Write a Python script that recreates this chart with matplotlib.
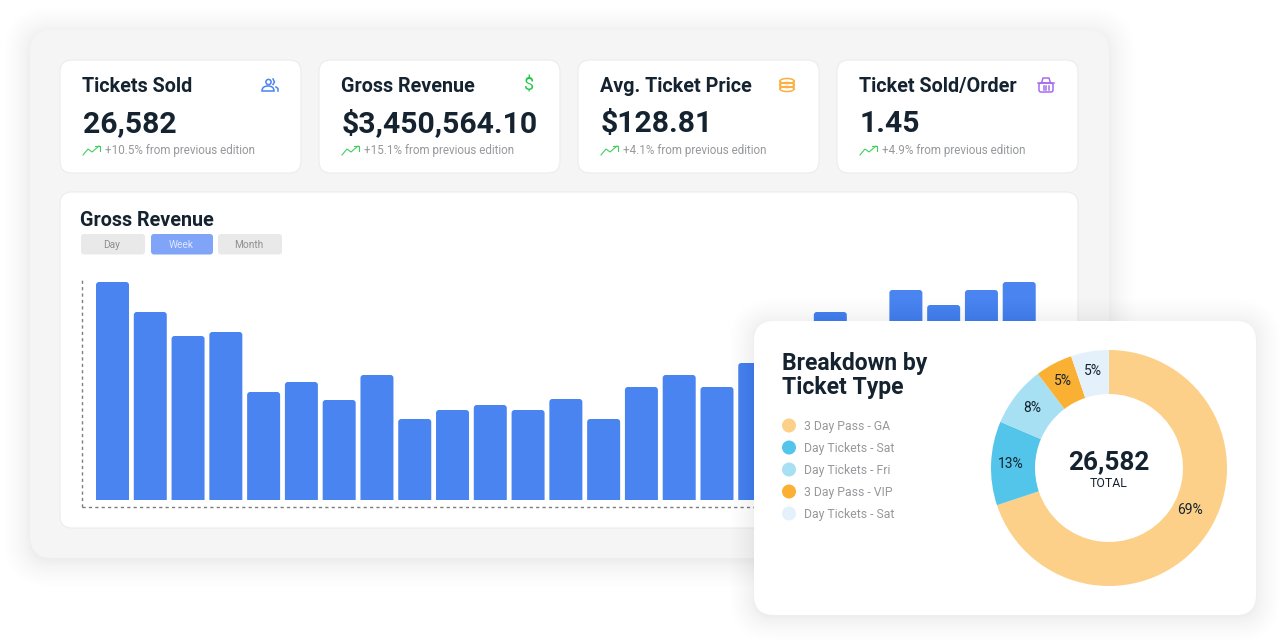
# -*- coding: utf-8 -*-
import numpy as np
import matplotlib
matplotlib.use("Agg")
import matplotlib.pyplot as plt
from matplotlib.patches import FancyBboxPatch, PathPatch, Circle, Ellipse
from matplotlib.path import Path

W, H = 1286, 644

card_titles = ["Tickets Sold", "Gross Revenue", "Avg. Ticket Price", "Ticket Sold/Order"]
card_values = ["26,582", "$3,450,564.10", "$128.81", "1.45"]
card_notes = [
    "+10.5% from previous edition",
    "+15.1% from previous edition",
    "+4.1% from previous edition",
    "+4.9% from previous edition",
]
range_buttons = ["Day", "Week", "Month"]

# bar heights, weeks 18 and 20 are hidden behind the card
revenue = [218, 188, 164, 168, 108, 118, 100, 125, 81, 90, 95, 90, 101, 81, 113,
           125, 113, 137, 150, 188, 160, 210, 195, 210, 218]

ticket_types = ["3 Day Pass - GA", "Day Tickets - Sat", "Day Tickets - Fri",
                "3 Day Pass - VIP", "Day Tickets - Sat"]
ticket_shares = [69.9, 11.5, 8.3, 5.1, 5.2]
ticket_labels = ["69%", "13%", "8%", "5%", "5%"]
ticket_colors = ["#fcd088", "#53c5ea", "#a8e0f3", "#fab133", "#e4f1fb"]
ticket_total = "26,582"

DARK = "#14232f"
GREY = "#8d8f92"
FONT = "Roboto"

plt.rcParams["font.family"] = [FONT, "DejaVu Sans"]


def px_axes(fig, left, top, right, bottom, **kwargs):
    return fig.add_axes(
        [left / W, 1 - bottom / H, (right - left) / W, (bottom - top) / H], **kwargs
    )


def box(ax, x0, y0, x1, y1, r, **kwargs):
    patch = FancyBboxPatch(
        (x0, y0), x1 - x0, y1 - y0,
        boxstyle="round,pad=0,rounding_size={}".format(r),
        **kwargs
    )
    ax.add_patch(patch)
    return patch


def shadow(ax, x0, y0, x1, y1, r, spread, layers, dy=0):
    # stacked see-through boxes stand in for a blur, tighter towards the edge
    for k in range(layers, 0, -1):
        i = spread * (k / layers) ** 1.6
        box(ax, x0 - i, y0 - i + dy, x1 + i, y1 + i + dy, r + i,
            fc="black", ec="none", alpha=0.004)


def rounded_top(x0, x1, h, rx, ry):
    verts = [(x0, 0), (x0, h - ry), (x0, h), (x0 + rx, h), (x1 - rx, h), (x1, h),
             (x1, h - ry), (x1, 0), (x0, 0)]
    codes = [Path.MOVETO, Path.LINETO, Path.CURVE3, Path.CURVE3, Path.LINETO,
             Path.CURVE3, Path.CURVE3, Path.LINETO, Path.CLOSEPOLY]
    return Path(verts, codes)


def trend_icon(ax, x, y):
    xs = np.array([-8, -3, 1, 8])
    ys = np.array([5, -1, 2, -4])
    ax.plot(x + xs, y + ys, color="#3fcf5e", lw=0.8, solid_joinstyle="miter")
    ax.plot([x + 3.5, x + 8.5, x + 8.5], [y - 4.5, y - 4.5, y + 0.5], color="#3fcf5e", lw=0.8)


def people_icon(ax, x, y):
    c = "#4a84f0"
    ax.add_patch(Circle((x - 1.5, y - 3), 2.6, fc="none", ec=c, lw=1.1))
    ax.add_patch(PathPatch(Path([(x - 8, y + 6), (x - 8, y + 1), (x - 2, y + 1), (x + 4, y + 1),
                                 (x + 4, y + 6), (x - 8, y + 6)],
                                [Path.MOVETO, Path.CURVE3, Path.CURVE3, Path.CURVE3, Path.CURVE3,
                                 Path.CLOSEPOLY]), fc="none", ec=c, lw=1.1))
    ax.plot([x + 3, x + 4.5, x + 3], [y - 6, y - 3, y - 0.5], color=c, lw=1.1)
    ax.plot([x + 6, x + 8, x + 8], [y + 2, y + 3.5, y + 6], color=c, lw=1.1)


def coins_icon(ax, x, y):
    c = "#fbb040"
    ax.plot([x - 7, x - 7], [y - 4, y + 4], color=c, lw=1.1)
    ax.plot([x + 7, x + 7], [y - 4, y + 4], color=c, lw=1.1)
    for dy in (-4, 0, 4):
        ax.add_patch(Ellipse((x, y + dy), 14, 5, fc="none", ec=c, lw=1.1))


def basket_icon(ax, x, y):
    c = "#a66cf0"
    box(ax, x - 7, y - 2, x + 7, y + 7, 2, fc="none", ec=c, lw=1.1)
    ax.plot([x - 8, x + 8], [y - 2, y - 2], color=c, lw=1.1)
    ax.plot([x - 4.5, x - 3, x + 3, x + 4.5], [y - 2, y - 7, y - 7, y - 2], color=c, lw=1.1)
    for dx in (-2.5, 0, 2.5):
        ax.plot([x + dx, x + dx], [y + 1, y + 4.5], color=c, lw=1.1)


fig = plt.figure(figsize=(W / 100, H / 100), dpi=100, facecolor="white")

# dashboard panel and cards
page = px_axes(fig, 0, 0, W, H, zorder=0)
page.set_xlim(0, W)
page.set_ylim(H, 0)
page.axis("off")

shadow(page, 30, 30, 1109, 558, 22, 26, 17, dy=3)
box(page, 30, 30, 1109, 558, 22, fc="#f5f5f5", ec="none")

card_left = [60, 319, 578, 837]
for i in range(4):
    x = card_left[i]
    box(page, x, 60, x + 241, 173, 12, fc="white", ec="#ececec", lw=0.8)
    page.text(x + 22, 92, card_titles[i], fontsize=14.2, weight="bold", color=DARK, va="baseline")
    page.text(x + 23, 132, card_values[i], fontsize=21.7, weight="bold", color=DARK, va="baseline")
    trend_icon(page, x + 31, 150)
    page.text(x + 45, 154, card_notes[i], fontsize=8.4, color="#96989b", va="baseline")

people_icon(page, 270, 85)
page.text(529, 90, "$", fontsize=13, color="#22c84a", ha="center", va="baseline")
coins_icon(page, 787, 85)
basket_icon(page, 1046, 85)

box(page, 60, 192, 1078, 528, 12, fc="white", ec="#ececec", lw=0.8)
page.text(80, 226, "Gross Revenue", fontsize=14.2, weight="bold", color=DARK, va="baseline")

button_x = [(81, 145), (151, 213), (218, 282)]
for i in range(3):
    x0, x1 = button_x[i]
    active = range_buttons[i] == "Week"
    box(page, x0, 234, x1, 254.5, 3, fc="#7fa4f8" if active else "#e9e9e9", ec="none")
    page.text((x0 + x1) / 2 - 1, 244.5, range_buttons[i], fontsize=7.3,
              color="#dfe8ff" if active else GREY, ha="center", va="center")

# weekly bars, one y unit is one pixel here
bar_ax = px_axes(fig, 82, 272, 1062, 507, zorder=1)
bar_ax.patch.set_alpha(0)
pitch = 37.78
xlim = (-(112.5 - 82) / pitch, (1062 - 112.5) / pitch)
bar_ax.set_xlim(xlim)
bar_ax.set_ylim(-7, 228)
bar_ax.set_xticks([])
bar_ax.set_yticks([])
for side in bar_ax.spines:
    bar_ax.spines[side].set_visible(False)

dash = {"color": "#7d7d7d", "lw": 1.0, "dashes": (2.3, 2.3), "dash_capstyle": "butt", "clip_on": False}
bar_ax.plot([xlim[0], xlim[1]], [-7, -7], **dash)
bar_ax.plot([xlim[0], xlim[0]], [-7, 220], **dash)

bars = bar_ax.bar(range(len(revenue)), revenue, width=33 / pitch, color="none")
for rect in bars:
    x0 = rect.get_x()
    path = rounded_top(x0, x0 + rect.get_width(), rect.get_height(), 3 / pitch, 3)
    bar_ax.add_patch(PathPatch(path, fc="#4a84f0", ec="none"))

# floating breakdown card
over = px_axes(fig, 0, 0, W, H, zorder=2)
over.patch.set_alpha(0)
over.set_xlim(0, W)
over.set_ylim(H, 0)
over.axis("off")

shadow(over, 754, 321, 1256, 615, 20, 24, 17, dy=2)
box(over, 754, 321, 1256, 615, 20, fc="white", ec="none")
over.text(782, 370, "Breakdown by", fontsize=16.5, weight="bold", color=DARK, va="baseline")
over.text(782, 394, "Ticket Type", fontsize=16.5, weight="bold", color=DARK, va="baseline")

for i in range(5):
    y = 425.5 + i * 22
    over.add_patch(Circle((789, y), 7, fc=ticket_colors[i], ec="none"))
    over.text(804, y + 1, ticket_types[i], fontsize=8.8, color="#96989b", va="center")

donut = px_axes(fig, 991, 350, 1227, 586, zorder=3)
wedges, texts = donut.pie(
    ticket_shares,
    labels=ticket_labels,
    colors=ticket_colors,
    startangle=90,
    counterclock=False,
    radius=1,
    labeldistance=0.83,
    wedgeprops={"width": 0.373},
    textprops={"fontsize": 10, "color": DARK},
)
for t in texts:
    t.set_ha("center")
    t.set_va("center")
# the reference puts this label higher than the middle of its slice
texts[0].set_position((0.69, -0.36))
donut.set_xlim(-1, 1)
donut.set_ylim(-1, 1)
donut.text(0, 0.045, ticket_total, fontsize=18.8, weight="bold", color=DARK, ha="center", va="center")
donut.text(0, -0.135, "TOTAL", fontsize=8.8, color=DARK, ha="center", va="center")

fig.savefig("out.png", dpi=100, facecolor="white")
